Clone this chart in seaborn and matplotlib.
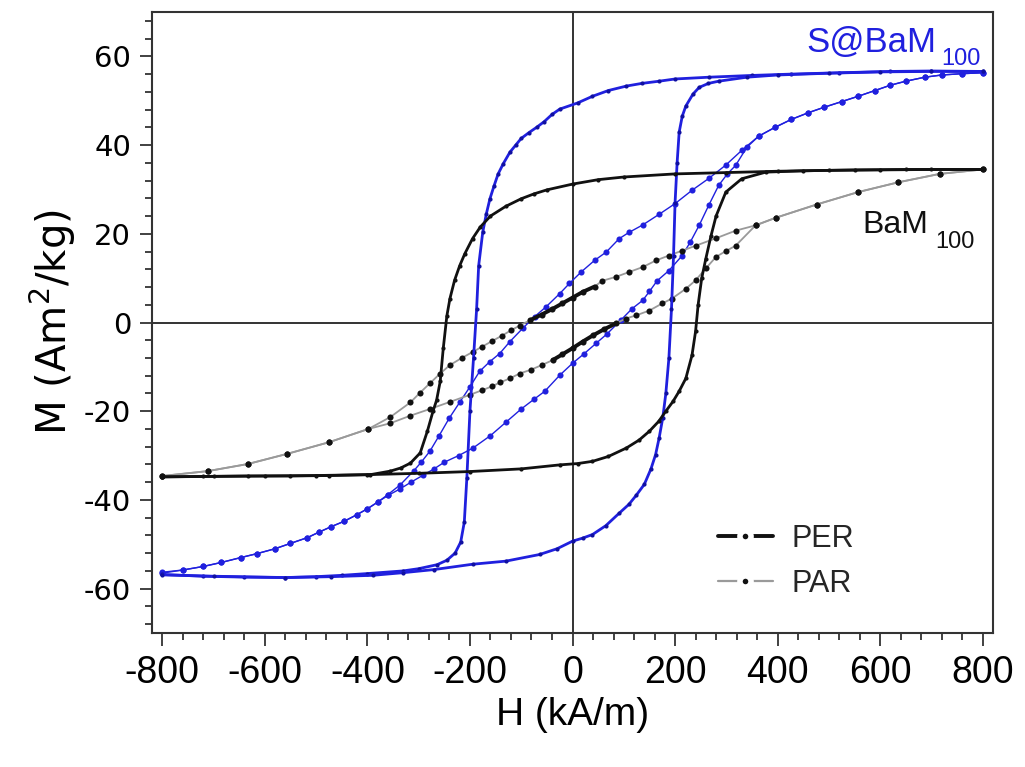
"""Hysteresis loops of BaM100 and S@BaM100 measured parallel (PAR) and
perpendicular (PER) to the field, redrawn with seaborn line plots.
"""
import matplotlib
matplotlib.use("Agg")
import matplotlib.pyplot as plt
from matplotlib.lines import Line2D
from matplotlib.legend_handler import HandlerTuple
from matplotlib.ticker import MultipleLocator
import pandas as pd
import seaborn as sns

sns.set_style("white")
plt.rcParams["mathtext.default"] = "regular"

# -------- Data (H in kA/m, M in Am2/kg) --------
# BaM100, perpendicular: descending branch (+800 -> -800)
bam_per_desc_h = [800, 700, 600, 500, 400, 300, 200, 100, 50, 0, -50, -75, -100, -130, -160,
                  -180, -195, -210, -220, -230, -239, -245, -252, -258, -265, -272, -283, -297,
                  -316, -335, -355, -394, -475, -550, -633, -720, -800]
bam_per_desc_m = [34.5, 34.5, 34.4, 34.3, 34.1, 33.8, 33.5, 32.8, 32.2, 31.2, 29.9, 29.0, 27.9,
                  26.2, 24.0, 21.5, 18.9, 15.5, 12.8, 9.5, 5.4, 1.5, -5.8, -13.3, -17.5, -20.0,
                  -24.5, -29.4, -31.7, -32.8, -33.5, -34.3, -34.5, -34.6, -34.6, -34.7, -34.8]
# BaM100, perpendicular: ascending branch (-800 -> +800)
bam_per_asc_h = [-800, -700, -600, -500, -400, -300, -200, -100, -25, 10, 39, 70, 105, 130,
                 150, 168, 182, 196, 208, 221, 233, 240, 245, 252, 260, 270, 280, 299, 330,
                 377, 450, 550, 650, 800]
bam_per_asc_m = [-34.8, -34.7, -34.6, -34.5, -34.3, -34.0, -33.6, -33.0, -32.1, -31.8, -31.3,
                 -30.2, -28.3, -26.5, -24.5, -22.3, -20.0, -17.8, -15.5, -12.6, -7.4, -2.0, 4.0,
                 10.0, 14.4, 19.5, 24.0, 29.4, 32.4, 33.9, 34.2, 34.4, 34.5, 34.5]

# BaM100, parallel
bam_par_desc_h = [800, 716, 635, 557, 476, 396, 357, 318, 280, 240, 214, 188, 163, 137, 111, 85,
                  58, 43, 20, 0, -20, -40, -60, -83, -103, -119, -138, -157, -177, -194, -216,
                  -239, -258, -278, -297, -316, -355, -398, -475, -556, -633, -711, -800]
bam_par_desc_m = [34.5, 33.5, 31.6, 29.4, 26.6, 23.6, 21.9, 20.7, 19.0, 17.3, 16.2, 15.1, 14.0,
                  12.5, 11.4, 10.3, 9.4, 8.1, 6.9, 5.6, 4.3, 3.0, 1.8, 0.5, -0.7, -1.7, -3.0,
                  -4.2, -5.5, -6.6, -8.0, -9.6, -11.5, -13.7, -15.8, -18.0, -21.3, -24.0, -27.0,
                  -29.6, -31.9, -33.5, -34.6]
bam_par_asc_h = [-800, -711, -633, -556, -475, -398, -355, -316, -278, -239, -200, -177, -157,
                 -141, -122, -103, -80, -60, -39, -20, 0, 20, 40, 62, 85, 104, 124, 150, 175,
                 194, 221, 240, 260, 280, 299, 318, 357, 396, 476, 557, 635, 716, 800]
bam_par_asc_m = [-34.6, -33.5, -31.9, -29.6, -27.0, -24.0, -22.7, -21.0, -19.5, -17.9, -16.3,
                 -15.3, -14.4, -13.5, -12.6, -11.5, -10.6, -9.6, -8.5, -7.2, -5.8, -4.3, -2.9,
                 -1.5, -0.2, 0.9, 1.6, 2.7, 4.3, 5.4, 7.6, 9.5, 12.2, 14.8, 16.1, 17.3, 21.9,
                 23.6, 26.6, 29.4, 31.6, 33.5, 34.5]

# S@BaM100, perpendicular
s_per_desc_h = [800, 700, 620, 520, 427, 350, 266, 200, 169, 135, 105, 70, 39, 10, -25, -40,
                -55, -70, -85, -100, -110, -122, -135, -145, -153, -161, -168, -175, -183,
                -187, -193, -200, -206, -211, -218, -229, -245, -264, -300, -330, -400, -450,
                -500, -560, -640, -720, -800]
s_per_desc_m = [56.6, 56.7, 56.6, 56.3, 56.0, 55.7, 55.3, 54.9, 54.4, 53.9, 53.3, 52.3, 51.0,
                49.5, 48.1, 46.9, 45.3, 44.0, 42.8, 41.5, 40.1, 38.4, 35.8, 33.5, 30.8, 27.9,
                24.5, 20.4, 12.8, 3.0, -8.0, -20.0, -35.0, -45.0, -49.5, -52.0, -53.6, -54.6,
                -55.5, -56.0, -56.6, -57.0, -57.3, -57.5, -57.4, -57.2, -56.8]
s_per_asc_h = [-800, -700, -560, -470, -390, -330, -270, -195, -130, -64, -30, 0, 20, 39, 65,
               91, 110, 124, 140, 153, 162, 169, 176, 182, 188, 193, 197, 200, 204, 208, 214,
               221, 235, 247, 265, 285, 340, 400, 500, 600, 700, 800]
s_per_asc_m = [-56.9, -57.2, -57.5, -57.3, -57.0, -56.4, -55.7, -54.5, -53.8, -52.3, -51.0,
               -49.3, -48.6, -47.8, -45.8, -43.0, -41.0, -39.0, -36.5, -33.0, -29.8, -26.0,
               -21.5, -16.0, -8.0, 3.0, 15.0, 27.0, 36.0, 42.9, 46.5, 48.8, 51.5, 53.0, 53.9,
               54.4, 55.3, 55.8, 56.2, 56.5, 56.6, 56.6]

# S@BaM100, parallel
s_par_desc_h = [800, 760, 720, 687, 650, 620, 590, 557, 525, 490, 460, 427, 395, 363, 330, 299,
                266, 233, 200, 169, 137, 110, 91, 66, 43, 17, -6, -25, -51, -74, -97, -122,
                -142, -161, -181, -200, -220, -240, -260, -278, -295, -310, -336, -360, -380,
                -400, -420, -445, -470, -495, -517, -550, -580, -615, -647, -685, -720, -760,
                -800]
s_par_desc_m = [56.3, 56.1, 55.8, 55.3, 54.4, 53.5, 52.3, 51.0, 49.8, 48.5, 47.3, 45.8, 44.0,
                42.0, 38.8, 35.5, 32.5, 29.8, 26.8, 24.4, 22.0, 20.3, 18.9, 15.9, 14.0, 11.4,
                8.8, 6.5, 3.6, 1.3, -1.3, -4.3, -7.0, -8.8, -11.0, -14.5, -18.0, -21.5, -25.5,
                -29.0, -31.5, -33.5, -36.6, -38.8, -40.5, -42.0, -43.3, -44.8, -46.0, -47.3,
                -48.5, -49.8, -51.0, -52.1, -53.0, -54.1, -55.0, -55.8, -56.3]
s_par_asc_h = [-800, -760, -720, -685, -647, -615, -580, -550, -517, -495, -470, -445, -420,
               -400, -380, -360, -336, -315, -291, -270, -250, -222, -194, -160, -130, -100,
               -75, -54, -25, 0, 23, 46, 68, 94, 116, 137, 150, 165, 188, 214, 230, 247, 266,
               285, 302, 318, 340, 363, 395, 427, 460, 490, 525, 557, 590, 620, 650, 687, 720,
               760, 800]
s_par_asc_m = [-56.5, -55.8, -55.0, -54.1, -53.0, -52.1, -51.0, -49.8, -48.5, -47.3, -46.0,
               -44.8, -43.3, -42.0, -40.5, -39.0, -37.5, -36.0, -34.4, -33.0, -31.5, -30.0,
               -28.3, -25.5, -22.5, -19.5, -17.3, -15.5, -11.9, -9.2, -7.0, -4.7, -2.5, 0.5,
               3.1, 5.0, 7.0, 9.4, 11.7, 15.1, 18.2, 21.9, 26.5, 30.9, 33.5, 35.4, 39.5, 42.0,
               44.0, 45.8, 47.3, 48.5, 49.8, 51.0, 52.3, 53.5, 54.4, 55.3, 55.8, 56.1, 56.3]

x_ticks = [-800, -600, -400, -200, 0, 200, 400, 600, 800]
y_ticks = [-60, -40, -20, 0, 20, 40, 60]

BLUE = "#2020de"
BLACK = "#111111"
GRAY = "#9a9a9a"
FRAME = "#333333"

# -------- Figure --------
fig = plt.figure(figsize=(10.25, 7.67), dpi=100)
ax = fig.add_axes([152 / 1025, 1 - 633 / 767, 841 / 1025, 621 / 767])

ax.axhline(0, color=FRAME, lw=1.4, zorder=1)
ax.axvline(0, color=FRAME, lw=1.4, zorder=1)


def draw(h, m, color, lw, ms, mfc, z):
    df = pd.DataFrame({"H": h, "M": m})
    sns.lineplot(data=df, x="H", y="M", sort=False, estimator=None, ax=ax, color=color,
                 linewidth=lw, marker="o", markersize=ms, markerfacecolor=mfc,
                 markeredgewidth=0, zorder=z)


def thick(h, m, lo, hi, z):
    # the measurement is denser around the origin: the dots merge into a thick stroke
    df = pd.DataFrame({"H": h, "M": m}).query("@lo <= H <= @hi")
    sns.lineplot(data=df, x="H", y="M", sort=False, estimator=None, ax=ax, color=BLACK,
                 linewidth=2.8, zorder=z)


for h, m in [(s_par_desc_h, s_par_desc_m), (s_par_asc_h, s_par_asc_m)]:
    draw(h, m, BLUE, 1.0, 4.4, BLUE, 3)
for h, m in [(bam_par_desc_h, bam_par_desc_m), (bam_par_asc_h, bam_par_asc_m)]:
    draw(h, m, GRAY, 1.3, 4.4, BLACK, 4)
thick(bam_par_desc_h, bam_par_desc_m, -85, 45, 4)
thick(bam_par_asc_h, bam_par_asc_m, -40, 86, 4)
for h, m in [(s_per_desc_h, s_per_desc_m), (s_per_asc_h, s_per_asc_m)]:
    draw(h, m, BLUE, 2.0, 3.0, "#1010a0", 5)
for h, m in [(bam_per_desc_h, bam_per_desc_m), (bam_per_asc_h, bam_per_asc_m)]:
    draw(h, m, BLACK, 2.0, 3.0, BLACK, 6)

# -------- Axes styling --------
ax.set_xlim(-820, 820)
ax.set_ylim(-70, 70)
ax.xaxis.set_major_locator(MultipleLocator(200))
ax.xaxis.set_minor_locator(MultipleLocator(40))
ax.yaxis.set_major_locator(MultipleLocator(20))
ax.yaxis.set_minor_locator(MultipleLocator(4))
ax.set_xticks(x_ticks)
ax.set_yticks(y_ticks)
ax.set_xticklabels([str(v) for v in x_ticks], family="Liberation Sans", fontsize=27)
ax.set_yticklabels([str(v) for v in y_ticks], family="DejaVu Sans", fontsize=21)
ax.tick_params(which="both", direction="out", bottom=True, left=True, top=False,
               right=False, color=FRAME, width=1.3, labelcolor="black")
ax.tick_params(which="major", length=9)
ax.tick_params(which="minor", length=5)
ax.tick_params(axis="x", which="major", pad=7)
ax.tick_params(axis="y", which="major", pad=6)
for s in ax.spines.values():
    s.set_color(FRAME)
    s.set_linewidth(1.5)

ax.set_xlabel("H (kA/m)", family="Liberation Sans", fontsize=28, labelpad=4, color="black")
ax.set_ylabel("M (Am$^2$/kg)", family="DejaVu Sans", fontsize=29, labelpad=4, color="black")

# sample labels with a dropped subscript
ax.text(457, 61, "S@BaM", color=BLUE, family="Liberation Sans", fontsize=25,
        va="baseline", ha="left")
ax.text(720, 58.1, "100", color=BLUE, family="Liberation Sans", fontsize=17,
        va="baseline", ha="left")
ax.text(565, 20.2, "BaM", color=BLACK, family="Liberation Sans", fontsize=23,
        va="baseline", ha="left")
ax.text(707, 16.8, "100", color=BLACK, family="Liberation Sans", fontsize=17,
        va="baseline", ha="left")

# legend: line broken around a centred dot, as in the original
gap = dict(marker="o", ms=12, mfc="white", mec="none")
per_line = Line2D([], [], color=BLACK, lw=2.8, **gap)
par_line = Line2D([], [], color=GRAY, lw=1.6, **gap)
dot = Line2D([], [], ls="none", marker="o", ms=4, mfc=BLACK, mec="none")
ax.legend([(per_line, dot), (par_line, dot)], ["PER", "PAR"],
          handler_map={tuple: HandlerTuple(ndivide=1)}, loc="upper left",
          bbox_to_anchor=(0.673, 0.176), frameon=False,
          prop={"family": "Liberation Sans", "size": 22}, handlelength=1.8,
          handletextpad=0.6, labelspacing=0.5, borderpad=0, borderaxespad=0, numpoints=1)

fig.savefig("out.png", dpi=100)
